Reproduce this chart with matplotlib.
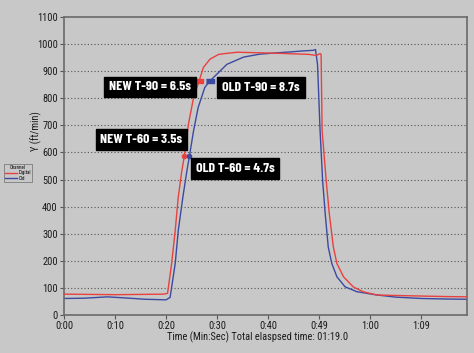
import matplotlib
matplotlib.use('Agg')
import matplotlib.pyplot as plt
import numpy as np

plt.rcParams['font.family'] = ['Roboto Condensed', 'DejaVu Sans']

# Digital (new) channel, seconds vs ft/min
t_new = [0, 5, 10, 15, 19.5, 20.3, 21.1, 21.8, 22.4, 23.1, 23.6, 24.4, 25.4, 26.5,
         27.3, 28.6, 30.3, 32, 34, 38, 42, 45, 48, 49.5, 50.2, 50.4, 50.6, 51.4, 52.0,
         52.8, 53.5, 54.8, 56.7, 58.6, 61.3, 65, 70, 75, 79]
v_new = [77, 76, 75, 76, 77, 80, 190, 312, 435, 533, 588, 705, 803, 864,
         913, 944, 962, 966, 970, 968, 966, 964, 962, 958, 965, 962, 680, 496, 375,
         251, 190, 141, 104, 86, 74, 72, 70, 68, 67]

# Old channel
t_old = [0, 4, 8.5, 12, 16, 20, 20.8, 21.8, 22.4, 23.3, 24.1, 24.6, 25.4, 26.3, 27.6,
         28.6, 30.3, 31.9, 35.2, 38.4, 42, 45, 47, 48.9, 49.3, 49.7, 50.2, 50.7, 51.2,
         51.8, 52.5, 53.5, 55.1, 57.4, 61.3, 65, 70, 75, 79]
v_old = [61, 62, 67, 63, 58, 56, 65, 190, 312, 435, 533, 588, 680, 766, 840,
         864, 895, 925, 952, 963, 968, 972, 975, 977, 980, 925, 680, 496, 375,
         251, 190, 141, 104, 86, 74, 66, 61, 59, 58]

# T-60 / T-90 marker points
t60 = [23.6, 24.6]
t90 = [26.5, 28.6]
v60 = 588
v90 = 864

xticks = [0, 10, 20, 30, 40, 50, 60, 70]
xlabels = ['0:00', '0:10', '0:20', '0:30', '0:40', '0:49', '1:00', '1:09']
yticks = list(range(0, 1101, 100))

notes = ['NEW T-90 = 6.5s', 'OLD T-90 = 8.7s', 'NEW T-60 = 3.5s', 'OLD T-60 = 4.7s']
note_pos = [(16.9, 842), (38.6, 840), (15.2, 647), (33.5, 542)]

bg = '#c8c8c8'
red = '#e8413f'
blue = '#3b4aa0'

fig = plt.figure(figsize=(4.74, 3.53), dpi=100, facecolor=bg)
ax = fig.add_axes([64/474, 1 - 315/353, (467 - 64)/474, (315 - 17)/353])
ax.set_facecolor(bg)

for y in range(100, 1001, 100):
    ax.axhline(y, color='#555555', lw=0.8, ls=(0, (1, 2)), zorder=1)

ax.plot(t_new, v_new, color=red, lw=1, label='Digital', zorder=3)
ax.plot(t_old, v_old, color=blue, lw=1, label='Old', zorder=2)

pill = [(-2, -0.8), (2, -0.8), (2, 0.8), (-2, 0.8)]
ax.plot(t90[0], v90, marker=pill, ms=6, color=red, ls='none', zorder=4)
ax.plot(t90[1], v90, marker=pill, ms=6, color=blue, ls='none', zorder=4)
ax.plot(t60[0], v60, marker='o', ms=3, color=red, ls='none', zorder=4)
ax.plot(t60[1], v60, marker='o', ms=3, color=blue, ls='none', zorder=4)

for txt, (x, y) in zip(notes, note_pos):
    ax.text(x, y, txt, color='white', fontsize=10, fontweight='bold',
            family=['Barlow Condensed', 'Roboto Condensed', 'DejaVu Sans'],
            ha='center', va='center', zorder=5,
            bbox=dict(boxstyle='square,pad=0.35', fc='black', ec='black'))

ax.set_xlim(0, 79)
ax.set_ylim(0, 1100)
ax.set_xticks(xticks)
ax.set_xticklabels(xlabels)
ax.set_yticks(yticks)
ax.tick_params(labelsize=7.5, length=3, color='#555555', labelcolor='#1a1a1a', pad=1.5)
for s in ax.spines.values():
    s.set_color('#6a6a6a')
    s.set_linewidth(1.2)

fig.text(258/474, 1 - 337/353, 'Time (Min:Sec) Total elaspsed time: 01:19.0',
         ha='center', va='center', fontsize=7.5, color='#1a1a1a')
fig.text(36/474, 1 - 131/353, 'Y (ft/min)', rotation=90, ha='center', va='center',
         fontsize=7.5, color='#1a1a1a')

leg = fig.legend(loc='upper left', bbox_to_anchor=(4/474, 1 - 164/353), title='Channel',
                 fontsize=3.5, title_fontsize=3.5, frameon=True, fancybox=False,
                 handlelength=2.5, borderpad=0.2, labelspacing=0.1, handletextpad=0.3,
                 borderaxespad=0)
leg.get_frame().set_facecolor(bg)
leg.get_frame().set_edgecolor('#555555')
leg.get_frame().set_linewidth(0.5)

fig.savefig('out.png', dpi=100, facecolor=bg)
